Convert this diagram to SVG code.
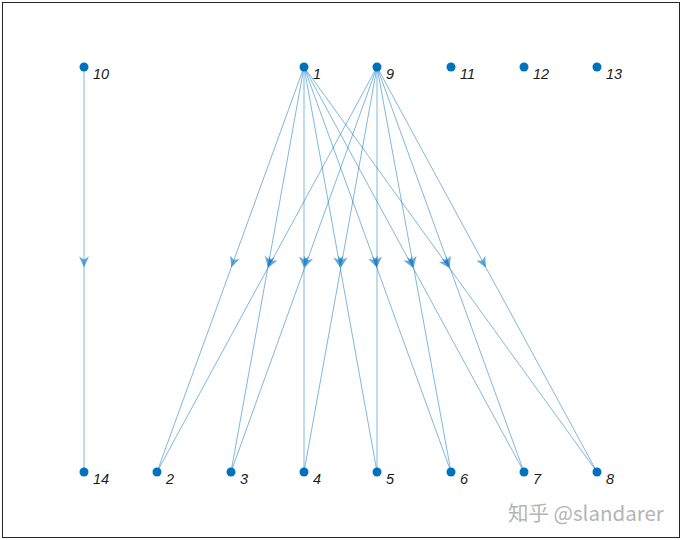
<svg xmlns="http://www.w3.org/2000/svg" width="682" height="540" viewBox="0 0 682 540">
<style>
.e{fill:none;stroke:#0072BD;stroke-opacity:0.5;stroke-width:1;marker-mid:url(#ah)}
.n circle{fill:#0072BD}
.n text{font-family:"Liberation Sans",Arial,sans-serif;font-style:italic;font-size:14.5px;fill:#1a1a1a}
.wm{font-family:"Noto Sans CJK SC","Liberation Sans",sans-serif;font-size:20.5px;fill:#b4b4b4}
</style>
<defs>
<marker id="ah" markerUnits="userSpaceOnUse" viewBox="-15 -6 17 12" refX="0" refY="0" markerWidth="17" markerHeight="12" orient="auto">
<path d="M-2,0 L-13,-5 L-10,0 L-13,5 Z" fill="#0072BD" fill-opacity="0.6"/>
</marker>
</defs>
<rect x="0" y="0" width="682" height="540" fill="#ffffff"/>
<rect x="2.5" y="2.5" width="677" height="535" fill="none" stroke="#262626" stroke-width="1"/>
<g id="edges">
<path class="e" d="M84,67 L84,269.5 L84,472"/>
<path class="e" d="M304,67 L230.5,269.5 L157,472"/>
<path class="e" d="M304,67 L267.5,269.5 L231,472"/>
<path class="e" d="M304,67 L304,269.5 L304,472"/>
<path class="e" d="M304,67 L340.5,269.5 L377,472"/>
<path class="e" d="M304,67 L377.5,269.5 L451,472"/>
<path class="e" d="M304,67 L414,269.5 L524,472"/>
<path class="e" d="M304,67 L450.5,269.5 L597,472"/>
<path class="e" d="M377,67 L267,269.5 L157,472"/>
<path class="e" d="M377,67 L304,269.5 L231,472"/>
<path class="e" d="M377,67 L340.5,269.5 L304,472"/>
<path class="e" d="M377,67 L377,269.5 L377,472"/>
<path class="e" d="M377,67 L414,269.5 L451,472"/>
<path class="e" d="M377,67 L450.5,269.5 L524,472"/>
<path class="e" d="M377,67 L487,269.5 L597,472"/>
</g>
<g id="node10" class="n"><circle cx="84" cy="67" r="4.5"/><text x="93" y="79">10</text></g>
<g id="node1" class="n"><circle cx="304" cy="67" r="4.5"/><text x="313" y="79">1</text></g>
<g id="node9" class="n"><circle cx="377" cy="67" r="4.5"/><text x="386" y="79">9</text></g>
<g id="node11" class="n"><circle cx="451" cy="67" r="4.5"/><text x="460" y="79">11</text></g>
<g id="node12" class="n"><circle cx="524" cy="67" r="4.5"/><text x="533" y="79">12</text></g>
<g id="node13" class="n"><circle cx="597" cy="67" r="4.5"/><text x="606" y="79">13</text></g>
<g id="node14" class="n"><circle cx="84" cy="472" r="4.5"/><text x="93" y="484">14</text></g>
<g id="node2" class="n"><circle cx="157" cy="472" r="4.5"/><text x="166" y="484">2</text></g>
<g id="node3" class="n"><circle cx="231" cy="472" r="4.5"/><text x="240" y="484">3</text></g>
<g id="node4" class="n"><circle cx="304" cy="472" r="4.5"/><text x="313" y="484">4</text></g>
<g id="node5" class="n"><circle cx="377" cy="472" r="4.5"/><text x="386" y="484">5</text></g>
<g id="node6" class="n"><circle cx="451" cy="472" r="4.5"/><text x="460" y="484">6</text></g>
<g id="node7" class="n"><circle cx="524" cy="472" r="4.5"/><text x="533" y="484">7</text></g>
<g id="node8" class="n"><circle cx="597" cy="472" r="4.5"/><text x="606" y="484">8</text></g>
<text class="wm" x="508" y="521">知乎 @slandarer</text>
</svg>
